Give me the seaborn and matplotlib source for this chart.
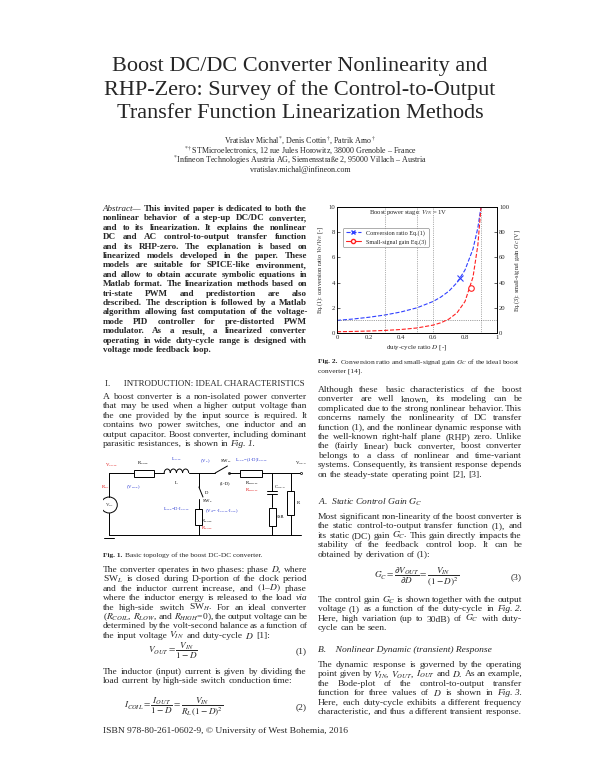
import matplotlib
matplotlib.use("Agg")
import matplotlib.pyplot as plt
import seaborn as sns
from matplotlib.patches import Rectangle, Circle, Arc

# ---------------------------------------------------------------------------
# Data for Fig. 2
# ---------------------------------------------------------------------------
duty = [0.0, 0.1, 0.2, 0.3, 0.4, 0.5, 0.6, 0.65, 0.7, 0.75, 0.8, 0.85, 0.88, 0.9]
conv_ratio = [1.0, 1.11, 1.25, 1.43, 1.67, 2.0, 2.5, 2.86, 3.33, 4.0, 5.0, 6.67, 8.33, 10.0]
gain_gc = [1.0, 1.23, 1.56, 2.04, 2.78, 4.0, 6.25, 8.16, 11.1, 16.0, 25.0, 44.4, 69.4, 100.0]
marker_conv = (0.77, 4.4)
marker_gain = (0.835, 36.0)
guide_x = [0.3, 0.5, 0.6, 0.9]
x_ticks = [0, 0.2, 0.4, 0.6, 0.8, 1]
x_tick_labels = ["0", "0.2", "0.4", "0.6", "0.8", "1"]
left_ticks = [0, 2, 4, 6, 8, 10]
right_ticks = [0, 20, 40, 60, 80, 100]

W, H = 600, 776
sns.set_theme(style="white")
plt.rcParams["font.family"] = ["Liberation Serif", "DejaVu Serif"]
plt.rcParams["mathtext.fontset"] = "stix"

fig = plt.figure(figsize=(W / 100, H / 100), dpi=100)
fig.patch.set_facecolor("white")
renderer = fig.canvas.get_renderer()

FS = 6.8  # body font size


def fx(px):
    return px / W


def fy(py):
    return 1 - py / H


def put(x, y, s, **kw):
    kw.setdefault("fontsize", FS)
    return fig.text(fx(x), fy(y), s, va="center", **kw)


def width(t):
    return t.get_window_extent(renderer).width


def justify(words, x0, x1, y, last=False, **kw):
    # words: list of str or (str, style dict); spread them across x0..x1
    items = []
    for w in words:
        txt, st = (w, {}) if isinstance(w, str) else w
        opts = dict(kw)
        opts.update(st)
        t = put(0, y, txt, **opts)
        items.append((t, width(t)))
    total = sum(wd for _, wd in items)
    space = width(put(0, y, "a a", **kw)) - width(put(0, y, "aa", **kw))
    fig.texts[-2:] = []
    gap = space if (last or len(items) < 2) else (x1 - x0 - total) / (len(items) - 1)
    x = x0
    for t, wd in items:
        t.set_x(fx(x))
        x += wd + gap


def paragraph(lines, x0, x1, y0, step=9.4, **kw):
    for i, line in enumerate(lines):
        words = line if isinstance(line, list) else line.split()
        justify(words, x0, x1, y0 + i * step, last=(i == len(lines) - 1), **kw)


def caption(x, y, label, rest, fs=5.3):
    t = put(x, y, label, fontsize=fs, weight="bold")
    put(x + width(t) + 3, y, rest, fontsize=fs)


LX0, LX1 = 103, 307
RX0, RX1 = 318, 522

# ---------------------------------------------------------------------------
# Title block
# ---------------------------------------------------------------------------
for yy, line in zip([66, 90, 114], ["Boost DC/DC Converter Nonlinearity and",
                                     "RHP-Zero: Survey of the Control-to-Output",
                                     "Transfer Function Linearization Methods"]):
    put(300, yy, line, fontsize=16, ha="center")

put(300, 140, "Vratislav Michal$^{*}$, Denis Cottin$^{\\dagger}$, Patrik Arno$^{\\dagger}$", fontsize=5.8, ha="center")
put(300, 150, "$^{*\\dagger}$STMicroelectronics, 12 rue Jules Horowitz, 38000 Grenoble – France", fontsize=5.8, ha="center")
put(300, 160, "$^{*}$Infineon Technologies Austria AG, Siemensstraße 2, 95000 Villach – Austria", fontsize=5.8, ha="center")
put(300, 170, "vratislav.michal@infineon.com", fontsize=5.8, ha="center")

# ---------------------------------------------------------------------------
# Left column
# ---------------------------------------------------------------------------
abstract = [
    "This invited paper is dedicated to both the",
    "nonlinear behavior of a step-up DC/DC converter,",
    "and to its linearization. It explains the nonlinear",
    "DC and AC control-to-output transfer function",
    "and its RHP-zero. The explanation is based on",
    "linearized models developed in the paper. These",
    "models are suitable for SPICE-like environment,",
    "and allow to obtain accurate symbolic equations in",
    "Matlab format. The linearization methods based on",
    "tri-state PWM and predistortion are also",
    "described. The description is followed by a Matlab",
    "algorithm allowing fast computation of the voltage-",
    "mode PID controller for pre-distorted PWM",
    "modulator. As a result, a linearized converter",
    "operating in wide duty-cycle range is designed with",
    "voltage mode feedback loop.",
]
abs_lines = [line.split() for line in abstract]
abs_lines[0] = [("Abstract—", {"style": "italic", "weight": "normal"})] + abs_lines[0]
paragraph(abs_lines, LX0, LX1, 209, weight="bold", fontsize=6.5)

put(205, 384, "I.      INTRODUCTION: IDEAL CHARACTERISTICS", fontsize=6.4, ha="center")

intro = [
    "A boost converter is a non-isolated power converter",
    "that may be used when a higher output voltage than",
    "the one provided by the input source is required. It",
    "contains two power switches, one inductor and an",
    "output capacitor. Boost converter, including dominant",
    ["parasitic", "resistances,", "is", "shown", "in", ("Fig. 1.", {"style": "italic"})],
]
paragraph(intro, LX0, LX1, 397)

# --- Fig. 1 schematic -------------------------------------------------------
cax = fig.add_axes([fx(103), fy(545), fx(307) - fx(103), fy(455) - fy(545)])
cax.set_xlim(0, 100)
cax.set_ylim(0, 45)
cax.axis("off")
lw = 0.7
k = "black"
blue = "#2030d0"
red = "#e01010"


def wire(xs, ys):
    cax.plot(xs, ys, color=k, lw=lw)


def box(xc, yc, w, h):
    cax.add_patch(Rectangle((xc - w / 2, yc - h / 2), w, h, fill=False, ec=k, lw=lw))


top, bot = 36, 5
wire([3, 3], [top, 24])
wire([3, 3], [16, bot])
cax.add_patch(Circle((3, 20), 4, fill=False, ec=k, lw=lw))
cax.text(3, 20, "V$_{IN}$", fontsize=3.5, ha="center", va="center")
wire([3, 15], [top, top])
box(20, top, 10, 3.5)
wire([25, 30], [top, top])
for i in range(4):
    cax.add_patch(Arc((31.5 + 3 * i, top), 3, 4, theta1=0, theta2=180, color=k, lw=lw))
wire([42, 55], [top, top])
wire([55, 61], [top, 39.5])
cax.plot([62], [top], "o", ms=1.5, mfc="white", mec=k, mew=0.5)
wire([62, 67], [top, top])
box(72.5, top, 11, 3.5)
wire([78, 97], [top, top])
cax.plot([97], [top], "o", ms=1.5, mfc="white", mec=k, mew=0.5)
wire([3, 97], [bot, bot])
wire([0.5, 5.5], [bot - 1.5, bot - 1.5])
# low-side switch
wire([47, 47], [top, 29])
wire([47, 49], [29, 24])
wire([47, 47], [23, 18])
box(47, 14, 3.5, 8)
wire([47, 47], [10, bot])
# output capacitor + ESR
wire([83, 83], [top, 27])
wire([80.5, 85.5], [27, 27])
wire([80.5, 85.5], [25.5, 25.5])
wire([83, 83], [25.5, 19])
box(83, 14, 3.5, 9)
wire([83, 83], [9.5, bot])
# load
wire([92, 92], [top, 27])
box(92, 21, 3.5, 12)
wire([92, 92], [15, bot])
for (x, y, s, c) in [(20, 41, "R$_{COIL}$", k), (4, 40, "V$_{COIL}$", red), (1, 29, "R$_{IN}$", red),
                     (36, 43, "I$_{COIL}$", blue), (50, 42, "(V$_L$)", blue), (36, 31, "L", k),
                     (15, 29, "(V$_{RCL}$)", blue), (60, 42, "SW$_H$", k), (60, 31, "(1-D)", k),
                     (73, 42.5, "I$_{OUT}$=(1-D)I$_{COIL}$", blue), (73, 31, "R$_{HIGH}$", k),
                     (73, 27.5, "R$_{HIGH}$", red), (97, 41, "V$_{OUT}$", k), (51, 26, "D", k),
                     (51, 22, "SW$_L$", k), (36, 18, "I$_{SWL}$=D·I$_{COIL}$", blue),
                     (58, 17, "(V$_A$= -I$_{COIL}$·I$_{SW}$)", blue), (51, 12, "R$_{LOW}$", k),
                     (51, 8.5, "R$_{LOW}$", red), (87, 29, "C$_{OUT}$", k), (87, 14, "ESR", k),
                     (96, 21, "R", k)]:
    cax.text(x, y, s, fontsize=3.4, color=c, ha="center", va="center")

caption(LX0, 555, "Fig. 1.", "Basic topology of the boost DC-DC converter.")

ops = [
    ["The", "converter", "operates", "in", "two", "phases:", "phase", "$D$,", "where"],
    "SW$_L$ is closed during D-portion of the clock period",
    ["and", "the", "inductor", "current", "increase,", "and", "$(1–D)$", "phase"],
    ["where", "the", "inductor", "energy", "is", "released", "to", "the", "load", ("via", {"style": "italic"})],
    "the high-side switch SW$_H$. For an ideal converter",
    "($R_{COIL}$, $R_{LOW}$, and $R_{HIGH}$=0), the output voltage can be",
    "determined by the volt-second balance as a function of",
    "the input voltage $V_{IN}$ and duty-cycle $D$ [1]:",
]
paragraph(ops, LX0, LX1, 570)

put(148, 651, r"$V_{OUT}=\dfrac{V_{IN}}{1-D}$", fontsize=6.6)
put(LX1, 651, "(1)", ha="right", fontsize=6.8)
paragraph(["The inductor (input) current is given by dividing the",
           "load current by high-side switch conduction time:"], LX0, LX1, 672)
put(124, 707, r"$I_{COIL}=\dfrac{I_{OUT}}{1-D}=\dfrac{V_{IN}}{R_L\,(1-D)^2}$", fontsize=6.6)
put(LX1, 707, "(2)", ha="right", fontsize=6.8)

put(LX0, 731, "ISBN 978-80-261-0602-9, © University of West Bohemia, 2016", fontsize=6.8)

# ---------------------------------------------------------------------------
# Right column: Fig. 2
# ---------------------------------------------------------------------------
ax = fig.add_axes([fx(337), fy(333), fx(497) - fx(337), fy(207) - fy(333)])
ax2 = ax.twinx()
sns.lineplot(x=duty, y=conv_ratio, ax=ax, color="#3040ff", lw=0.8, linestyle="--")
sns.lineplot(x=duty, y=gain_gc, ax=ax2, color="#ff2020", lw=0.8, linestyle="--")
ax.plot(*marker_conv, "x", color="#3040ff", ms=4, mew=0.8)
ax2.plot(*marker_gain, "o", mfc="white", mec="#ff2020", ms=4, mew=0.8)
for gx in guide_x:
    ax.axvline(gx, color="0.4", lw=0.5, ls=":")
ax.axhline(1, color="0.3", lw=0.5, ls=":")
ax.set_xlim(0, 1)
ax.set_ylim(0, 10)
ax2.set_ylim(0, 100)
ax.set_xticks(x_ticks, x_tick_labels)
ax.set_yticks(left_ticks)
ax2.set_yticks(right_ticks)
for a in (ax, ax2):
    a.tick_params(labelsize=4.8, length=2, width=0.5, pad=1.5, direction="in")
    for sp in a.spines.values():
        sp.set_linewidth(0.6)
        sp.set_color("black")
ax.set_xlabel("duty-cycle ratio $D$ [-]", fontsize=5.0, labelpad=2)
ax.set_ylabel("Eq.(1): conversion ratio $V_O/V_{IN}$ [-]", fontsize=4.5, labelpad=2)
ax2.set_ylabel("Eq.(3): small-signal gain $G_C$ [V]", fontsize=4.5, labelpad=2)
ax.text(0.2, 9.6, "Boost power stage: $V_{IN}$ = 1V", fontsize=4.8, va="center")
h1, = ax.plot([], [], "--x", color="#3040ff", lw=0.8, ms=3)
h2, = ax.plot([], [], "-o", color="#ff2020", lw=0.8, ms=3, mfc="white")
leg = ax.legend([h1, h2], ["Conversion ratio Eq.(1)", "Small-signal gain Eq.(3)"],
                loc="upper left", bbox_to_anchor=(0.02, 0.86), fontsize=4.4,
                frameon=True, handlelength=2.5, borderpad=0.4, labelspacing=0.5)
leg.get_frame().set_edgecolor("0.3")
leg.get_frame().set_linewidth(0.4)
leg.get_frame().set_facecolor("white")

caption(RX0, 362, "Fig. 2.", "Conversion ratio and small-signal gain $G_C$ of the ideal boost")
put(RX0, 371, "converter [14].", fontsize=5.3)

right1 = [
    "Although these basic characteristics of the boost",
    "converter are well known, its modeling can be",
    "complicated due to the strong nonlinear behavior. This",
    "concerns namely the nonlinearity of DC transfer",
    "function (1), and the nonlinear dynamic response with",
    "the well-known right-half plane (RHP) zero. Unlike",
    "the (fairly linear) buck converter, boost converter",
    "belongs to a class of nonlinear and time-variant",
    "systems. Consequently, its transient response depends",
    "on the steady-state operating point [2], [3].",
]
paragraph(right1, RX0, RX1, 390)

put(RX0, 502, "A.  Static Control Gain $G_C$", style="italic")
right2 = [
    "Most significant non-linearity of the boost converter is",
    "the static control-to-output transfer function (1), and",
    "its static (DC) gain $G_C$. This gain directly impacts the",
    "stability of the feedback control loop. It can be",
    "obtained by derivation of (1):",
]
paragraph(right2, RX0, RX1, 517)
put(374, 577, r"$G_C=\dfrac{\partial V_{OUT}}{\partial D}=\dfrac{V_{IN}}{(1-D)^2}$", fontsize=6.6)
put(RX1, 577, "(3)", ha="right", fontsize=6.8)
right3 = [
    "The control gain $G_C$ is shown together with the output",
    ["voltage", "(1)", "as", "a", "function", "of", "the", "duty-cycle", "in", ("Fig. 2.", {"style": "italic"})],
    "Here, high variation (up to 30dB) of $G_C$ with duty-",
    "cycle can be seen.",
]
paragraph(right3, RX0, RX1, 600)
put(RX0, 650, "B.    Nonlinear Dynamic (transient) Response", style="italic")
right4 = [
    "The dynamic response is governed by the operating",
    "point given by $V_{IN}$, $V_{OUT}$, $I_{OUT}$ and $D$. As an example,",
    "the Bode-plot of the control-to-output transfer",
    ["function", "for", "three", "values", "of", "$D$", "is", "shown", "in", ("Fig. 3.", {"style": "italic"})],
    "Here, each duty-cycle exhibits a different frequency",
    "characteristic, and thus a different transient response.",
]
paragraph(right4, RX0, RX1, 665)

fig.savefig("out.png", dpi=100, facecolor="white")
plt.close(fig)
